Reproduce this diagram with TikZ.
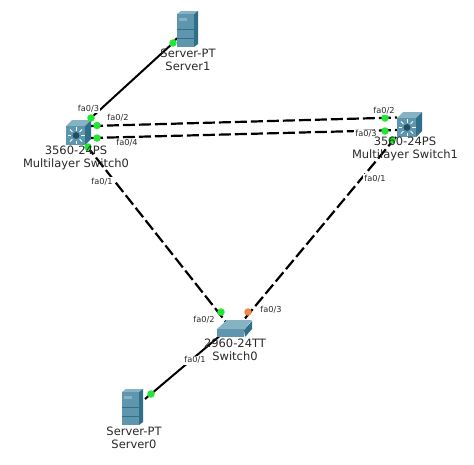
\documentclass[tikz,border=0pt]{standalone}
\usepackage{fontspec}
\usetikzlibrary{backgrounds}
\setmainfont{DejaVu Sans}
\definecolor{iconfront}{HTML}{5E96AE}
\definecolor{icontop}{HTML}{86B3C4}
\definecolor{iconside}{HTML}{2F6F88}
\definecolor{linkgreen}{HTML}{22E632}
\definecolor{linkorange}{HTML}{F58448}
\definecolor{labelgrey}{HTML}{2A2A2A}
\tikzset{
  devlabel/.style={font=\fontsize{11.5pt}{12.8pt}\selectfont,text=labelgrey,inner sep=0pt,align=center},
  portlabel/.style={font=\fontsize{8.2pt}{9pt}\selectfont,text=labelgrey,inner sep=1pt,fill=white},
  okdot/.style={circle,fill=linkgreen,inner sep=0pt,minimum size=7.5pt},
  warndot/.style={circle,fill=linkorange,inner sep=0pt,minimum size=7.5pt},
  copper/.style={line width=2pt,black},
  dashlink/.style={line width=2.2pt,black,dash pattern=on 12pt off 4pt},
  face/.style={fill=iconfront,draw=none,inner sep=0pt,anchor=north west},
}
\newcommand{\serverbox}[3]{% name, x, y of top-left of front face
  \fill[icontop] (#2,#3) -- ++(4,-3) -- ++(17,0) -- ++(-4,3) -- cycle;
  \fill[iconside] (#2+17,#3) -- ++(4,-3) -- ++(0,33) -- ++(-4,3) -- cycle;
  \node[face,minimum width=17pt,minimum height=33pt] (#1) at (#2,#3) {};
  \fill[icontop] (#2+2,#3+4) rectangle ++(8,3);
  \draw[iconside,line width=.3pt] (#2,#3+15) -- ++(17,0);
  \draw[iconside,line width=.3pt] (#2,#3+24) -- ++(17,0);
}
\newcommand{\mlswitch}[3]{%
  \fill[icontop] (#2,#3+6) -- ++(6,-6) -- ++(19,0) -- ++(-6,6) -- cycle;
  \fill[iconside] (#2+19,#3+6) -- ++(6,-6) -- ++(0,19) -- ++(-6,6) -- cycle;
  \node[face,minimum width=19pt,minimum height=19pt] (#1) at (#2,#3+6) {};
  \fill[iconside!70!black] (#2+10,#3+15.5) circle (3.4pt);
  \foreach \a in {0,45,...,315}
    \draw[white,line width=.8pt] (#2+10,#3+15.5) ++(\a:5pt) -- ++(\a:3.5pt);
}
\begin{document}
\begin{tikzpicture}[x=1pt,y=-1pt]
\useasboundingbox (0,0) rectangle (474,464);
% cable end points on the icons
\coordinate (srvAend) at (177,38);
\coordinate (acc1) at (222,334);
\coordinate (acc2) at (226,322);
\coordinate (acc3) at (242,322);
\coordinate (srvBend) at (145,399);
\coordinate (mlsAa) at (91,126);
\coordinate (mlsAb) at (91,138);
\coordinate (mlsBa) at (397,117.5);
\coordinate (mlsBb) at (397,130);
\coordinate (mlsBc) at (396,137);
\coordinate (mlsAc) at (86,145);
% devices
\serverbox{srvA}{177}{14}
\serverbox{srvB}{122}{392}
\mlswitch{mlsA}{66}{120}
\mlswitch{mlsB}{397}{112}
% access switch
\fill[iconside] (244,330) -- (252,321) -- (252,329) -- (245,337) -- cycle;
\fill[icontop] (217,329) -- (227,320) -- (252,320) -- (244,330) -- cycle;
\node[face,minimum width=27pt,minimum height=8pt] (acc) at (217,329) {};
% port dots
\node[okdot] (pA) at (173,43) {};
\node[okdot] (p3) at (91,118) {};
\node[okdot] (p2) at (97,125.5) {};
\node[okdot] (p4) at (97,138) {};
\node[okdot] (p1) at (88,147) {};
\node[okdot] (q2) at (385,118) {};
\node[okdot] (q3) at (385,131) {};
\node[okdot] (q1) at (392,140) {};
\node[okdot] (r2) at (221,312) {};
\node[warndot] (r3) at (248,312) {};
\node[okdot] (r1) at (151,394) {};
% cables, beneath icons and dots
\begin{pgfonlayer}{background}
\fill[white] (0,0) rectangle (474,464);
\draw[copper] (srvAend) -- (pA.center) -- (p3.center);
\draw[copper] (srvBend) -- (r1.center) -- (acc1);
\draw[dashlink] (mlsAa) -- (mlsBa);
\draw[dashlink] (mlsAb) -- (mlsBb);
\draw[dashlink] (mlsAc) -- (acc2);
\draw[dashlink] (mlsBc) -- (acc3);
\end{pgfonlayer}
% port labels
\node[portlabel] (t1) at (88.5,109) {fa0/3};
\node[portlabel] (t2) at (118,117.5) {fa0/2};
\node[portlabel] (t3) at (127,143) {fa0/4};
\node[portlabel] (t4) at (102,181.5) {fa0/1};
\node[portlabel] (t5) at (384,111) {fa0/2};
\node[portlabel] (t6) at (366,134) {fa0/3};
\node[portlabel] (t7) at (375,178.5) {fa0/1};
\node[portlabel] (t8) at (204,320) {fa0/2};
\node[portlabel] (t9) at (271,310) {fa0/3};
\node[portlabel] (t10) at (195,360) {fa0/1};
% device labels
\node[devlabel] (lA) at (188,59.5) {Server-PT\\Server1};
\node[devlabel] (lB) at (76,158) {3560-24PS\\Multilayer Switch0};
\node[devlabel] (lC) at (405,149) {3560-24PS\\Multilayer Switch1};
\node[devlabel] (lD) at (235,349.5) {2960-24TT\\Switch0};
\node[devlabel] (lE) at (134,437.5) {Server-PT\\Server0};
\end{tikzpicture}
\end{document}
